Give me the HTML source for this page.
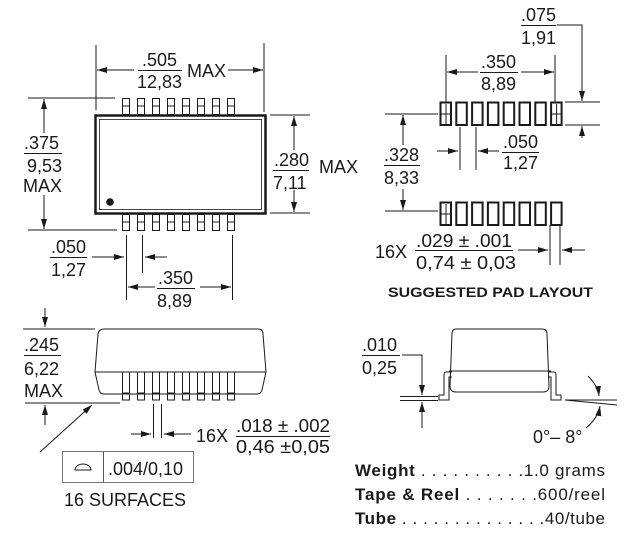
<!DOCTYPE html>
<html><head><style>
body{margin:0;background:#fff;}
svg{display:block;}
text{font-family:"Liberation Sans",Arial,sans-serif;font-size:18px;fill:#1a1a1a;}
.b{font-weight:bold;}
</style></head><body>
<svg width="629" height="537" viewBox="0 0 629 537" xmlns="http://www.w3.org/2000/svg">
<defs>
<marker id="a" viewBox="0 0 10 6" refX="10" refY="3" markerWidth="10" markerHeight="6" orient="auto" markerUnits="userSpaceOnUse"><path d="M0,0 L10,3 L0,6 Z" fill="#1a1a1a"/></marker>
</defs>
<g stroke="#1a1a1a" stroke-width="1" fill="none">
<!-- TOP VIEW -->
<rect x="95.5" y="115.5" width="170" height="98" stroke-width="2.5"/>
<rect x="99.5" y="119.5" width="162" height="90" stroke-width="0.8"/>
<g id="tp">
<rect x="122.5" y="98.5" width="7" height="16"/><line x1="122.5" y1="106" x2="129.5" y2="106"/>
</g>
<use href="#tp" x="15"/><use href="#tp" x="30"/><use href="#tp" x="45"/><use href="#tp" x="60"/><use href="#tp" x="75"/><use href="#tp" x="90"/><use href="#tp" x="105"/>
<g id="bp">
<rect x="122.5" y="214.5" width="7" height="16"/><line x1="122.5" y1="222" x2="129.5" y2="222"/>
</g>
<use href="#bp" x="15"/><use href="#bp" x="30"/><use href="#bp" x="45"/><use href="#bp" x="60"/><use href="#bp" x="75"/><use href="#bp" x="90"/><use href="#bp" x="105"/>
<!-- .505 -->
<line x1="96" y1="45" x2="96" y2="110"/><line x1="264" y1="43" x2="264" y2="112"/>
<line x1="134" y1="70" x2="97" y2="70" marker-end="url(#a)"/>
<line x1="228" y1="70" x2="263" y2="70" marker-end="url(#a)"/>
<line x1="138" y1="70.5" x2="182" y2="70.5"/>
<!-- .375 -->
<line x1="28" y1="98" x2="115" y2="98"/><line x1="28" y1="230" x2="117" y2="230"/>
<line x1="44" y1="133" x2="44" y2="99" marker-end="url(#a)"/>
<line x1="44" y1="195" x2="44" y2="229" marker-end="url(#a)"/>
<line x1="24" y1="153.5" x2="62" y2="153.5"/>
<!-- .280 -->
<line x1="270" y1="115" x2="310" y2="115"/><line x1="270" y1="213" x2="310" y2="213"/>
<line x1="294" y1="150" x2="294" y2="116" marker-end="url(#a)"/>
<line x1="294" y1="190" x2="294" y2="212" marker-end="url(#a)"/>
<line x1="273" y1="170.5" x2="309" y2="170.5"/>
<!-- .050 bottom -->
<line x1="126.5" y1="235" x2="126.5" y2="300"/><line x1="142.5" y1="235" x2="142.5" y2="273"/><line x1="232.5" y1="235" x2="232.5" y2="300"/>
<line x1="92" y1="257" x2="124" y2="257" marker-end="url(#a)"/>
<line x1="167" y1="257" x2="145" y2="257" marker-end="url(#a)"/>
<line x1="50" y1="257.5" x2="87" y2="257.5"/>
<line x1="155" y1="287" x2="128" y2="287" marker-end="url(#a)"/>
<line x1="200" y1="287" x2="231" y2="287" marker-end="url(#a)"/>
<line x1="157" y1="288.5" x2="195" y2="288.5"/>
<circle cx="110" cy="202" r="3.8" fill="#1a1a1a" stroke="none"/>

<!-- PAD LAYOUT -->
<g id="pt"><rect x="440.5" y="102.5" width="10.5" height="22.5" stroke-width="2"/></g>
<use href="#pt" x="15.8"/><use href="#pt" x="31.6"/><use href="#pt" x="47.4"/><use href="#pt" x="63.2"/><use href="#pt" x="79"/><use href="#pt" x="94.8"/><use href="#pt" x="110.6"/>
<g id="pb"><rect x="440.5" y="202.5" width="10.5" height="22.5" stroke-width="2"/></g>
<use href="#pb" x="15.8"/><use href="#pb" x="31.6"/><use href="#pb" x="47.4"/><use href="#pb" x="63.2"/><use href="#pb" x="79"/><use href="#pb" x="94.8"/><use href="#pb" x="110.6"/>
<line x1="446" y1="104" x2="446" y2="124"/><line x1="441" y1="114" x2="451" y2="114"/>
<line x1="556.6" y1="104" x2="556.6" y2="124"/><line x1="551.6" y1="114" x2="561.6" y2="114"/>
<line x1="446" y1="204" x2="446" y2="224"/><line x1="441" y1="214" x2="451" y2="214"/>
<!-- .350 pad -->
<line x1="446" y1="55" x2="446" y2="102"/><line x1="555" y1="55" x2="555" y2="102"/>
<line x1="478" y1="72" x2="447" y2="72" marker-end="url(#a)"/>
<line x1="521" y1="72" x2="554" y2="72" marker-end="url(#a)"/>
<line x1="480" y1="72.5" x2="518" y2="72.5"/>
<!-- .075 -->
<line x1="521" y1="25.5" x2="556" y2="25.5"/>
<polyline points="557,25 582,25 582,100"/>
<line x1="582" y1="95" x2="582" y2="101" marker-end="url(#a)"/>
<line x1="565" y1="102" x2="600" y2="102"/><line x1="565" y1="125" x2="600" y2="125"/>
<line x1="582" y1="138" x2="582" y2="126" marker-end="url(#a)"/>
<!-- .328 -->
<line x1="385" y1="114" x2="438" y2="114"/><line x1="385" y1="211" x2="438" y2="211"/>
<line x1="403" y1="145" x2="403" y2="115" marker-end="url(#a)"/>
<line x1="403" y1="189" x2="403" y2="210" marker-end="url(#a)"/>
<line x1="384" y1="165.5" x2="420" y2="165.5"/>
<!-- .050 pad -->
<line x1="460" y1="127" x2="460" y2="170"/><line x1="476" y1="127" x2="476" y2="170"/>
<line x1="437" y1="151" x2="458" y2="151" marker-end="url(#a)"/>
<line x1="499" y1="151" x2="478" y2="151" marker-end="url(#a)"/>
<line x1="502" y1="152.5" x2="539" y2="152.5"/>
<!-- .029 -->
<line x1="550" y1="225" x2="550" y2="265"/><line x1="560" y1="225" x2="560" y2="265"/>
<line x1="518" y1="250" x2="548" y2="250" marker-end="url(#a)"/>
<line x1="585" y1="250" x2="562" y2="250" marker-end="url(#a)"/>
<line x1="415" y1="250.5" x2="513" y2="250.5"/>

<!-- SIDE VIEW -->
<path d="M104,329 L258,329 Q263,329 263,334 L266,372 L262,390 Q261,394 257,394 L104,394 Q100,394 99,390 L95,372 L98,334 Q99,329 104,329 Z"/>
<line x1="95" y1="372" x2="266" y2="372"/>
<g id="sp"><rect x="122.5" y="372" width="7" height="21" fill="#fff"/><rect x="122.5" y="393" width="7" height="7"/></g>
<use href="#sp" x="15"/><use href="#sp" x="30"/><use href="#sp" x="45"/><use href="#sp" x="60"/><use href="#sp" x="75"/><use href="#sp" x="90"/><use href="#sp" x="105"/>
<line x1="23" y1="329" x2="95" y2="329"/><line x1="25" y1="403" x2="120" y2="403"/>
<line x1="45" y1="308" x2="45" y2="327" marker-end="url(#a)"/>
<line x1="45" y1="425" x2="45" y2="405" marker-end="url(#a)"/>
<line x1="24" y1="355.5" x2="61" y2="355.5"/>
<line x1="40" y1="452" x2="92" y2="405" marker-end="url(#a)"/>
<rect x="62.5" y="451.5" width="131" height="31" stroke="#777"/>
<line x1="103.5" y1="452" x2="103.5" y2="482" stroke="#555"/>
<path d="M75,470 A8,6 0 0 1 91,470 Z"/>
<line x1="153.5" y1="404" x2="153.5" y2="438"/><line x1="161.5" y1="404" x2="161.5" y2="438"/>
<line x1="131" y1="434" x2="151" y2="434" marker-end="url(#a)"/>
<line x1="191" y1="434" x2="164" y2="434" marker-end="url(#a)"/>
<line x1="236" y1="436.5" x2="330" y2="436.5"/>

<!-- END VIEW -->
<path d="M456,329 L542,329 Q547,329 547,334 L549,386 Q549,392 543,392 L456,392 Q450,392 450,386 L452,334 Q452,329 456,329 Z"/>
<line x1="449" y1="371" x2="551" y2="371"/>
<path d="M452,372 L446,372 Q444,372 444,375 L444,395 L439,395 L439,400 L449,400 L449,377 L452,377"/>
<path d="M548,372 L554,372 Q556,372 556,375 L556,395 L561,395 L561,400 L551,400 L551,377 L548,377"/>
<line x1="400" y1="396.5" x2="438" y2="396.5"/><line x1="400" y1="400.5" x2="438" y2="400.5"/>
<line x1="362" y1="355.5" x2="400" y2="355.5"/>
<polyline points="402,355 422,355 422,390"/>
<line x1="422" y1="388" x2="422" y2="395" marker-end="url(#a)"/>
<line x1="422" y1="428" x2="422" y2="402" marker-end="url(#a)"/>
<line x1="565" y1="400" x2="617" y2="400"/><line x1="565" y1="400" x2="617" y2="405"/>
<path d="M588,376 Q598,386 599,396" marker-end="url(#a)"/>
<path d="M586,428 Q598,418 600,406" marker-end="url(#a)"/>
</g>

<!-- texts -->
<text x="142" y="66">.505</text>
<text x="137" y="88">12,83</text>
<text x="187" y="77">MAX</text>
<text x="24" y="149">.375</text>
<text x="27" y="172">9,53</text>
<text x="23" y="192">MAX</text>
<text x="274" y="166">.280</text>
<text x="273" y="189">7,11</text>
<text x="319" y="173">MAX</text>
<text x="51" y="253">.050</text>
<text x="51" y="276">1,27</text>
<text x="158" y="284">.350</text>
<text x="157" y="307">8,89</text>

<text x="521" y="21">.075</text>
<text x="521" y="44">1,91</text>
<text x="481" y="68">.350</text>
<text x="481" y="90">8,89</text>
<text x="384" y="161">.328</text>
<text x="384" y="184">8,33</text>
<text x="503" y="148">.050</text>
<text x="503" y="169">1,27</text>
<text x="375" y="258">16X</text>
<text x="416" y="247" textLength="96" lengthAdjust="spacingAndGlyphs">.029 ± .001</text>
<text x="416" y="269" textLength="100" lengthAdjust="spacingAndGlyphs">0,74 ±  0,03</text>
<text class="b" x="388" y="297" style="font-size:14px" textLength="205" lengthAdjust="spacingAndGlyphs">SUGGESTED PAD LAYOUT</text>

<text x="24" y="351">.245</text>
<text x="24" y="375">6,22</text>
<text x="24" y="397">MAX</text>
<text x="196" y="442">16X</text>
<text x="236" y="432" textLength="94" lengthAdjust="spacingAndGlyphs">.018 ± .002</text>
<text x="236" y="453" textLength="94" lengthAdjust="spacingAndGlyphs">0,46 ±0,05</text>
<text x="108" y="475">.004/0,10</text>
<text x="64" y="506">16 SURFACES</text>

<text x="362" y="351">.010</text>
<text x="362" y="374">0,25</text>
<text x="533" y="443">0°– 8°</text>
<text x="355" y="476" style="font-size:17px" textLength="250" lengthAdjust="spacing"><tspan class="b">Weight</tspan> . . . . . . . . . .1.0  grams</text>
<text x="355" y="500" style="font-size:17px" textLength="250" lengthAdjust="spacing"><tspan class="b">Tape &amp; Reel</tspan> . . . . . . .600/reel</text>
<text x="355" y="524" style="font-size:17px" textLength="250" lengthAdjust="spacing"><tspan class="b">Tube</tspan> . . . . . . . . . . . . . .40/tube</text>
</svg>
</body></html>
